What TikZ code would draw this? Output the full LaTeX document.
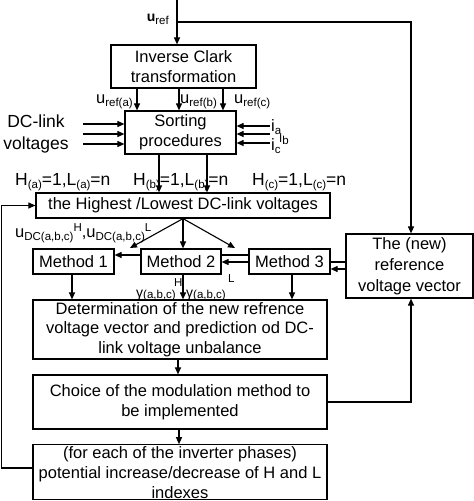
\documentclass[tikz,border=0pt]{standalone}
\usepackage{fontspec}
\setmainfont{Liberation Sans}
\usetikzlibrary{arrows.meta,calc}
\newcommand\sbs[1]{\raisebox{-3pt}{\fontsize{11.5}{11.5}\selectfont #1}}
\newcommand\sps[1]{\raisebox{6pt}{\fontsize{11.5}{11.5}\selectfont #1}}
\begin{document}
\begin{tikzpicture}[x=1pt,y=-1pt,
  box/.style={draw,line width=1.2pt,inner sep=0pt,align=center,font=\fontsize{16.5}{20}\selectfont},
  lbl/.style={inner sep=0pt,font=\fontsize{16.5}{20}\selectfont},
  biglbl/.style={inner sep=0pt,font=\fontsize{17.5}{22}\selectfont},
  arr/.style={line width=1.1pt,-{Triangle[length=7pt,width=6pt]}},
  ln/.style={line width=1.1pt}]
\useasboundingbox (0,0) rectangle (474,501);

% boxes
\node[box,minimum width=145pt,minimum height=43pt] (clark) at (183.5,66.5) {Inverse Clark\\transformation};
\node[box,minimum width=111pt,minimum height=43pt] (sort) at (180.5,132.5) {Sorting\\procedures};
\node[box,minimum width=294pt,minimum height=25pt] (hl) at (183,205.5) {the Highest /Lowest DC-link voltages};
\node[box,minimum width=81pt,minimum height=25pt] (m1) at (73.5,261.5) {Method 1};
\node[box,minimum width=80pt,minimum height=25pt] (m2) at (181,261.5) {Method 2};
\node[box,minimum width=81pt,minimum height=25pt] (m3) at (289.5,261.5) {Method 3};
\node[box,font=\fontsize{16.5}{21}\selectfont,minimum width=127pt,minimum height=64pt] (nr) at (409.5,266) {The (new)\\reference\\voltage vector};
\node[box,font=\fontsize{16.5}{19.5}\selectfont,minimum width=294pt,minimum height=59pt] (det) at (180,329.5) {Determination of the new refrence\\voltage vector and prediction od DC-\\link voltage unbalance};
\node[box,minimum width=294pt,minimum height=54pt] (ch) at (180,402) {Choice of the modulation method to\\be implemented};
\node[box,minimum width=294pt,minimum height=55pt] (ix) at (180,472.3) {(for each of the inverter phases)\\potential increase/decrease of H and L\\indexes};

% u_ref input
\coordinate (top) at (177,0);
\coordinate (br) at (177,22);
\node[lbl,anchor=base east] (ureflbl) at (169,21) {\fontsize{14}{14}\selectfont\textbf{u}\sbs{ref}};
\draw[arr] (top) -- (top |- clark.north);
\draw[arr] (br) -| ([xshift=1.5pt]nr.north);

% Clark -> Sorting
\draw[arr] (clark.south -| 137,0) -- (sort.north -| 137,0);
\draw[arr] (clark.south -| 179,0) -- (sort.north -| 179,0);
\draw[arr] (clark.south -| 223,0) -- (sort.north -| 223,0);
\node[lbl,anchor=base east] (ua) at (133,103) {u\sbs{ref(a)}};
\node[lbl,anchor=base west] (ub) at (180,103) {u\sbs{ref(b)}};
\node[lbl,anchor=base west] (uc) at (234,103) {u\sbs{ref(c)}};

% DC-link voltages inputs
\node[biglbl,align=center] (dcl) at (36,134) {DC-link\\voltages};
\coordinate (d1) at (83,124);
\coordinate (d2) at (83,134);
\coordinate (d3) at (83,144);
\draw[arr] (d1) -- (sort.west |- d1);
\draw[arr] (d2) -- (sort.west |- d2);
\draw[arr] (d3) -- (sort.west |- d3);

% currents
\coordinate (c1) at (270,126);
\coordinate (c2) at (270,134);
\coordinate (c3) at (270,143);
\draw[arr] (c1) -- (sort.east |- c1);
\draw[arr] (c2) -- (sort.east |- c2);
\draw[arr] (c3) -- (sort.east |- c3);
\node[lbl,anchor=base west] (ia) at (271,131) {i\sbs{a}};
\node[lbl,anchor=base west] (ibl) at (279,142) {\fontsize{11.5}{11.5}\selectfont I\raisebox{-2.5pt}{b}};
\node[lbl,anchor=base west] (ic) at (271,150) {i\sbs{c}};

% Sorting -> Highest/Lowest
\draw[arr] (sort.south -| 159,0) -- (hl.north -| 159,0);
\draw[arr] (sort.south -| 207,0) -- (hl.north -| 207,0);
\node[biglbl,anchor=base west] (ha) at (15,185) {H\sbs{(a)}=1,L\sbs{(a)}=n};
\node[biglbl,anchor=base west] (hb) at (133,185) {H\sbs{(b)}=1,L\sbs{(b)}=n};
\node[biglbl,anchor=base west] (hc) at (252,185) {H\sbs{(c)}=1,L\sbs{(c)}=n};

% feedback loop
\coordinate (fbc) at (1.5,205.5);
\draw[arr] (ix.west |- 0,468) -| (fbc) -- (hl.west);

% Highest/Lowest -> methods
\coordinate (t1) at (130,248);
\coordinate (t3) at (235,248);
\draw[arr] (hl.south) -- (t1);
\draw[arr] (hl.south) -- (hl.south |- m2.north);
\draw[arr] (hl.south) -- (t3);
\node[lbl,anchor=base west] (udc) at (15,237) {u\sbs{DC(a,b,c)}\sps{H},u\sbs{DC(a,b,c)}\sps{L}};

% between methods
\draw[arr] (m2.west |- 0,255) -- (m1.east |- 0,255);
\draw[ln] (m3.west |- 0,255) -- (m2.east |- 0,255);
\draw[arr] (m3.west |- 0,262) -- (m2.east |- 0,262);
\draw[ln] (nr.west |- 0,262) -- (m3.east |- 0,262);
\draw[arr] (nr.west |- 0,269) -- (m3.east |- 0,269);

% methods -> determination
\draw[arr] (m1.south -| 72,0) -- (det.north -| 72,0);
\draw[arr] (m2.south -| 183,0) -- (det.north -| 183,0);
\draw[arr] (m3.south -| 292,0) -- (det.north -| 292,0);
\node[lbl,anchor=base east] (g1) at (176,297) {{\fontsize{14}{14}\selectfont γ}\raisebox{-1pt}{\fontsize{11.5}{11.5}\selectfont (a,b,c)}};
\node[lbl,anchor=base west] (gh) at (174,286) {\fontsize{11.5}{11.5}\selectfont H};
\node[lbl,anchor=base west] (g2) at (186,297) {{\fontsize{14}{14}\selectfont γ}\raisebox{-1pt}{\fontsize{11.5}{11.5}\selectfont (a,b,c)}};
\node[lbl,anchor=base west] (gl) at (228,282) {\fontsize{11.5}{11.5}\selectfont L};

% lower chain
\draw[arr] (det.south -| 178,0) -- (ch.north -| 178,0);
\draw[arr] (ch.south -| 179,0) -- (ix.north -| 179,0);
\draw[arr] (ch.east) -| ([xshift=1.5pt]nr.south);
\end{tikzpicture}
\end{document}
